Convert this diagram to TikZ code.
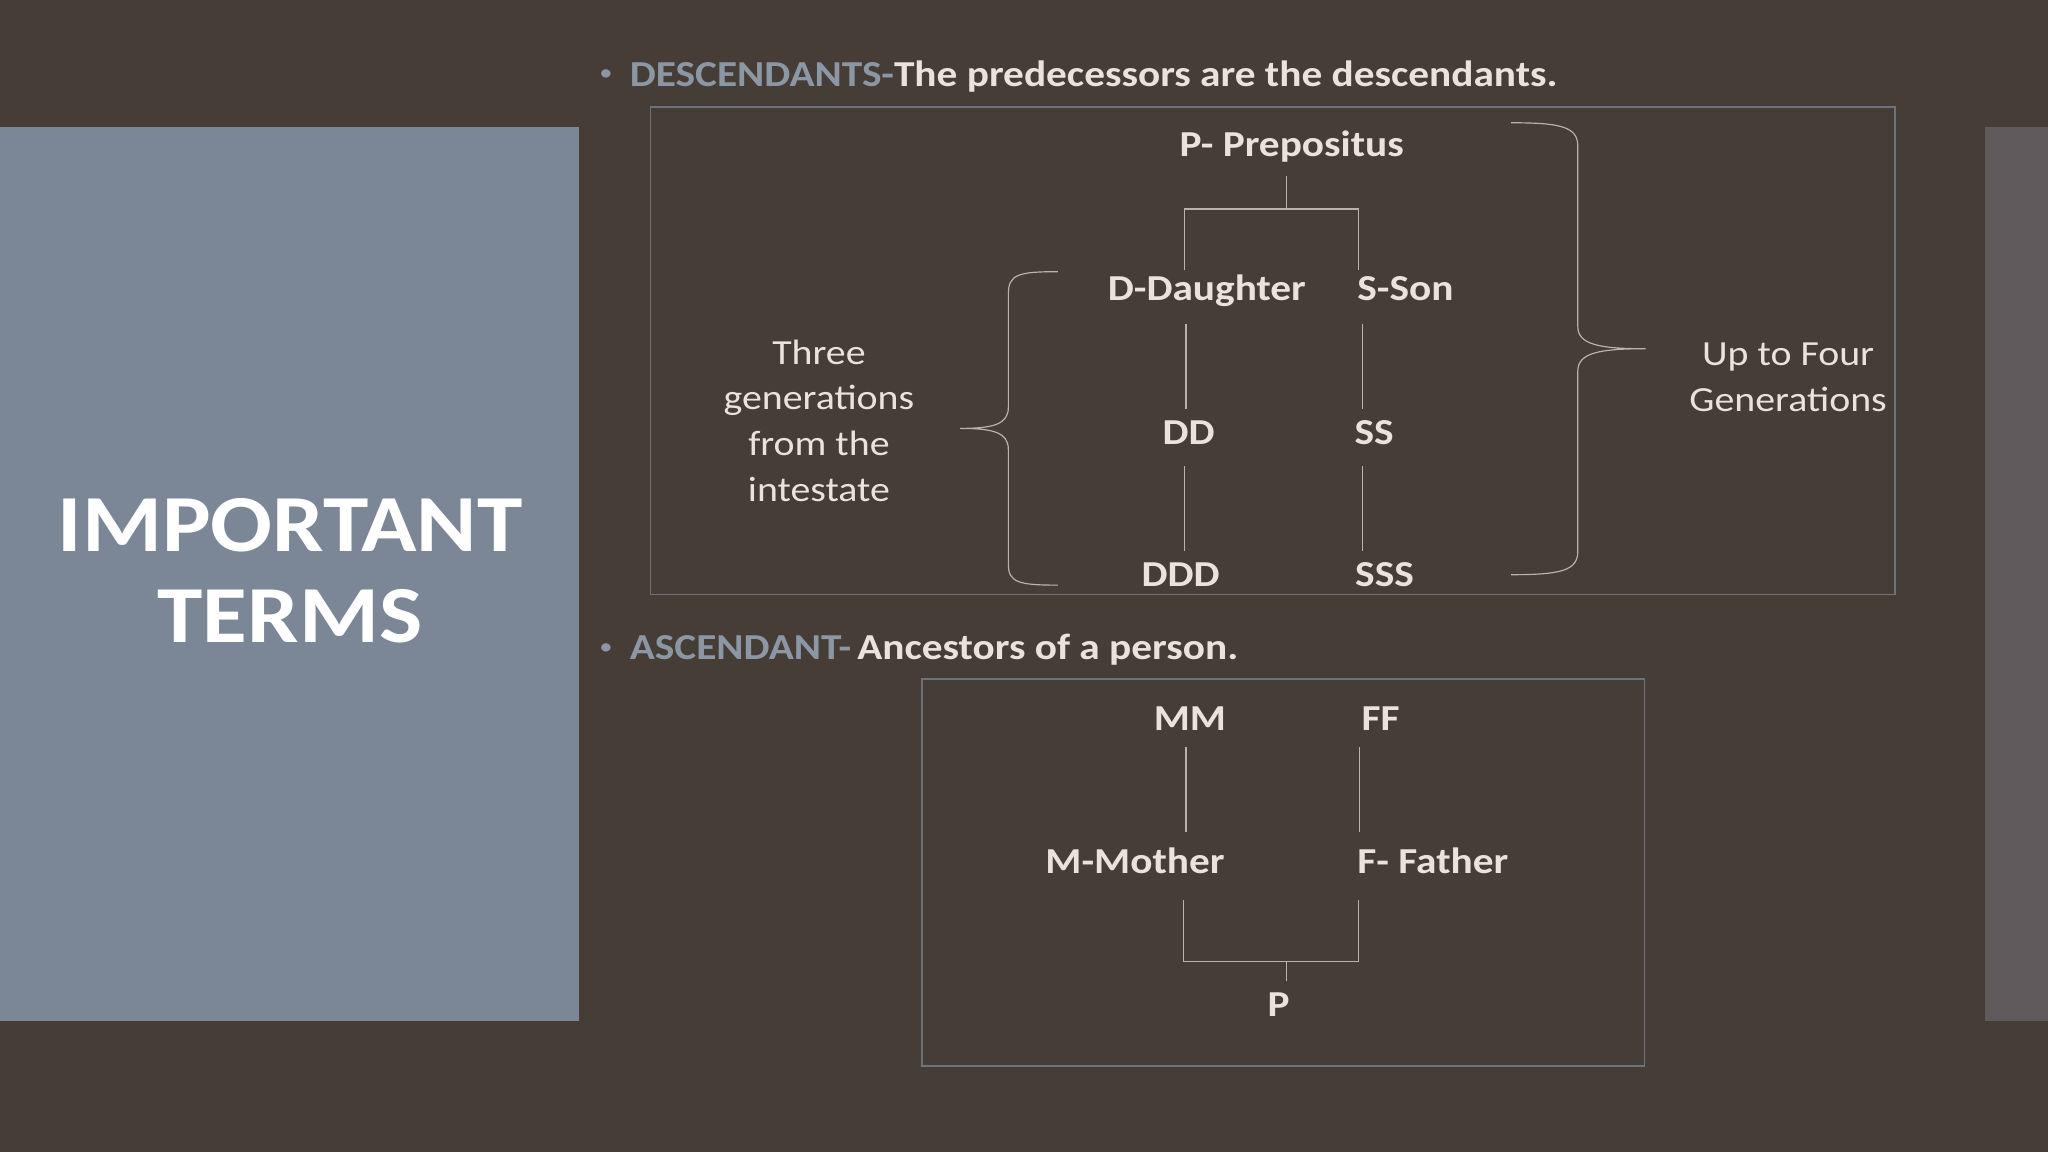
\documentclass[tikz,border=0pt]{standalone}
\usepackage{fontspec}
\setmainfont{Carlito}[FakeStretch=1.13]
\begin{document}
\begin{tikzpicture}[x=1pt,y=-1pt,
  txt/.style={text=textc,font=\fontsize{28}{30}\selectfont\bfseries,inner sep=0pt,anchor=base},
  small/.style={text=textc,font=\fontsize{27}{35}\selectfont,align=center,inner sep=0pt},
  ln/.style={draw=linec,line width=0.9pt},
  frame/.style={draw=framec,line width=1.2pt}]
\definecolor{bg}{HTML}{463D36}
\definecolor{panel}{HTML}{7B8797}
\definecolor{strip}{HTML}{605A5C}
\definecolor{textc}{HTML}{EAE3DC}
\definecolor{head}{HTML}{8C97A6}
\definecolor{linec}{HTML}{B8B3AE}
\definecolor{framec}{HTML}{6E737B}
\useasboundingbox (0,0) rectangle (1568,882);
\fill[bg] (0,0) rectangle (1568,882);
\fill[panel] (0,97) rectangle (443,782);
\fill[strip] (1520,97) rectangle (1568,782);
\node[text=white,font=\fontsize{62}{70}\selectfont\bfseries,align=center] (title) at (222,437) {IMPORTANT\\TERMS};
% headings
\node[text=head,font=\fontsize{18}{20}\selectfont,anchor=base] (b1) at (464,62) {•};
\node[txt,anchor=base west] (h1) at (482,66) {\textcolor{head}{DESCENDANTS-}The predecessors are the descendants.};
\node[text=head,font=\fontsize{18}{20}\selectfont,anchor=base] (b2) at (464,501) {•};
\node[txt,anchor=base west] (h2) at (482,505) {\textcolor{head}{ASCENDANT-}\,Ancestors of a person.};
% frames
\draw[frame] (498,82) rectangle (1451,455);
\draw[frame] (706,520) rectangle (1259,816);
% descendants tree
\node[txt] (p) at (989,120) {P- Prepositus};
\node[txt] (d) at (924,230) {D-Daughter};
\node[txt] (s) at (1076,230) {S-Son};
\node[txt] (dd) at (910,340) {DD};
\node[txt] (ss) at (1052,340) {SS};
\node[txt] (ddd) at (904,449) {DDD};
\node[txt] (sss) at (1060,449) {SSS};
\draw[ln] (985,135) -- (985,160);
\draw[ln] (907,207) -- (907,160) -- (1040,160) -- (1040,207);
\draw[ln] (908,248) -- (908,313);
\draw[ln] (1043,248) -- (1043,313);
\draw[ln] (907,357) -- (907,422);
\draw[ln] (1043,357) -- (1043,422);
\node[small] (three) at (627,322) {Three\\generations\\from the\\intestate};
\node[small] (four) at (1369,289) {Up to Four\\Generations};
% left brace
\draw[ln] (810,208) .. controls (780,208) and (772,210) .. (772,225) -- (772,312) .. controls (772,325) and (760,328) .. (735,328)
  .. controls (760,328) and (772,331) .. (772,344) -- (772,432) .. controls (772,446) and (780,448) .. (810,448);
% right brace
\draw[ln] (1157,94) .. controls (1195,94) and (1208,97) .. (1208,112) -- (1208,250) .. controls (1208,264) and (1225,267) .. (1260,267)
  .. controls (1225,267) and (1208,270) .. (1208,284) -- (1208,422) .. controls (1208,437) and (1195,440) .. (1157,440);
% ascendants tree
\node[txt] (mm) at (911,559) {MM};
\node[txt] (ff) at (1057,559) {FF};
\node[txt] (m) at (869,669) {M-Mother};
\node[txt] (f) at (1097,669) {F- Father};
\node[txt] (pp) at (979,778) {P};
\draw[ln] (908,572) -- (908,637);
\draw[ln] (1041,572) -- (1041,637);
\draw[ln] (906,689) -- (906,736) -- (1040,736) -- (1040,689);
\draw[ln] (985,736) -- (985,751);
\end{tikzpicture}
\end{document}
